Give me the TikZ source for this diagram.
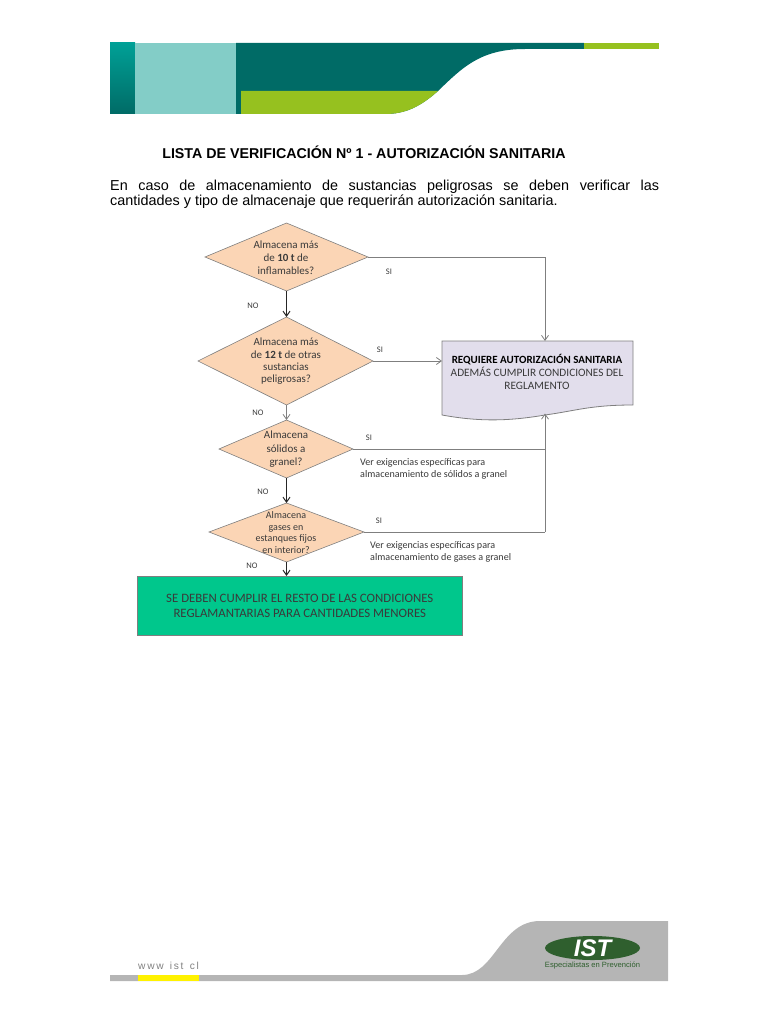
\documentclass[tikz,border=0pt]{standalone}
\usepackage{fontspec}
\setmainfont{Liberation Sans}
\newfontfamily\carl{Carlito}
\usetikzlibrary{arrows.meta,shapes.geometric}
\definecolor{tealdark}{HTML}{006B66}
\definecolor{tealtop}{HTML}{00A096}
\definecolor{teallight}{HTML}{83CDC7}
\definecolor{limeg}{HTML}{96C11F}
\definecolor{peach}{HTML}{FBD5B5}
\definecolor{lilac}{HTML}{E2DEEC}
\definecolor{greenbox}{HTML}{00C78C}
\definecolor{ink}{HTML}{3A3A3A}
\definecolor{edgegray}{HTML}{7F7F7F}
\definecolor{foot}{HTML}{B5B5B5}
\definecolor{oval}{HTML}{2F5F2E}
\tikzset{
  x=1pt,y=-1pt,
  flow/.style={font=\carl\fontsize{11}{13}\selectfont,text=ink,align=center,inner sep=0pt},
  small/.style={font=\carl\fontsize{10.1}{12}\selectfont,text=ink,align=left,anchor=west,inner sep=0pt},
  lab/.style={font=\carl\fontsize{8.5}{10}\selectfont,text=ink,inner sep=0pt},
  conn/.style={draw=edgegray,line width=0.8pt,-{Straight Barb[length=5pt,width=7pt]}},
  connk/.style={draw=black!85,line width=1pt,-{Straight Barb[length=5pt,width=7pt]}},
  plain/.style={draw=edgegray,line width=0.8pt},
  dshape/.style={draw=edgegray,line width=0.6pt,fill=peach},
}
\begin{document}
\begin{tikzpicture}
\useasboundingbox (0,0) rectangle (768,1024);
% header
\fill[tealdark] (236,43) -- (584,43) -- (584,49) -- (525,49)
  .. controls (480,49) and (462,68) .. (438,91) .. controls (420,107) and (405,114) .. (385,114) -- (236,114) -- cycle;
\fill[limeg] (584,43) rectangle (659,49);
\shade[top color=tealtop,bottom color=tealdark] (110,43) rectangle (135,114);
\fill[teallight] (135,43) rectangle (236,114);
\fill[limeg] (241,91) -- (438,91) .. controls (420,107) and (405,114) .. (385,114) -- (241,114) -- cycle;
% title and paragraph
\node[font=\bfseries\fontsize{14.25}{15}\selectfont,inner sep=0pt] (title) at (364,152.5) {LISTA DE VERIFICACIÓN Nº 1 - AUTORIZACIÓN SANITARIA};
\node[font=\fontsize{14.4}{15.2}\selectfont,text width=549pt,align=justify,inner sep=0pt,anchor=north west] (intro) at (110,179.5) {En caso de almacenamiento de sustancias peligrosas se deben verificar las\linebreak cantidades y tipo de almacenaje que requerirán autorización sanitaria.};
% decisions
\path[dshape] (205,257) -- (286.5,223) -- (368,257) -- (286.5,291) -- cycle;
\path[dshape] (198,361) -- (286.5,317) -- (373,361) -- (286.5,405) -- cycle;
\path[dshape] (219,449) -- (286.5,420) -- (353,449) -- (286.5,478) -- cycle;
\path[dshape] (209,532) -- (286.5,503) -- (364,532) -- (286.5,562) -- cycle;
\coordinate (d1t) at (286.5,223); \coordinate (d1b) at (286.5,291); \coordinate (d1r) at (368,257);
\coordinate (d2t) at (286.5,317); \coordinate (d2b) at (286.5,405); \coordinate (d2r) at (373,361);
\coordinate (d3t) at (286.5,420); \coordinate (d3b) at (286.5,478); \coordinate (d3r) at (353,449);
\coordinate (d4t) at (286.5,503); \coordinate (d4b) at (286.5,562); \coordinate (d4r) at (364,532);
\node[flow] (t1) at (286,258) {Almacena más\\de \textbf{10 t} de\\inflamables?};
\node[flow,font=\carl\fontsize{11}{12.4}\selectfont] (t2) at (286,361.5) {Almacena más\\de \textbf{12 t} de otras\\sustancias\\peligrosas?};
\node[flow,font=\carl\fontsize{11}{13.4}\selectfont] (t3) at (286,449.5) {Almacena\\sólidos a\\granel?};
\node[flow,font=\carl\fontsize{10}{11.7}\selectfont] (t4) at (286,532.5) {Almacena\\gases en\\estanques fijos\\en interior?};
% document
\path[draw=edgegray,line width=0.8pt,fill=lilac] (442,341) -- (633,341) -- (633,405)
  .. controls (590,405) and (575,411) .. (545,415) .. controls (510,421) and (480,422) .. (442,415) -- cycle;
\coordinate (doct) at (545,341); \coordinate (docl) at (442,361); \coordinate (docb) at (545,413.5);
\node[font=\carl\fontsize{11.3}{13}\selectfont,text=ink,align=center,inner sep=0pt] (doctext) at (537,372) {\fontsize{11}{13}\selectfont\textbf{\textcolor{black}{REQUIERE AUTORIZACIÓN SANITARIA}}\\ADEMÁS  CUMPLIR CONDICIONES DEL\\REGLAMENTO};
% green box
\node[draw=edgegray,line width=0.6pt,fill=greenbox,minimum width=325pt,minimum height=59pt,inner sep=0pt,anchor=north west,font=\carl\fontsize{12.8}{15.8}\selectfont,text=ink,align=center] (final) at (137,576) {SE DEBEN CUMPLIR EL RESTO DE LAS CONDICIONES\\REGLAMANTARIAS PARA CANTIDADES MENORES};
% connectors
\coordinate (c1) at (545,257);
\coordinate (c3) at (545,449);
\coordinate (c4) at (545,532);
\coordinate (fin) at (286.5,576);
\draw[connk] (d1b) -- (d2t);
\draw[conn] (d2b) -- (d3t);
\draw[connk] (d3b) -- (d4t);
\draw[connk] (d4b) -- (fin);
\draw[conn] (d1r) -- (c1) -- (doct);
\draw[conn] (d2r) -- (docl);
\draw[plain] (d3r) -- (c3);
\draw[plain] (d4r) -- (c4);
\draw[conn] (c4) -- (docb);
% labels
\node[lab] (si1) at (389,272) {SI};
\node[lab] (si2) at (380,350) {SI};
\node[lab] (si3) at (369,438) {SI};
\node[lab] (si4) at (379,521) {SI};
\node[lab] (no1) at (253,306) {NO};
\node[lab] (no2) at (258,413) {NO};
\node[lab] (no3) at (263,492) {NO};
\node[lab] (no4) at (252,566) {NO};
\node[small] (v1) at (360,468.5) {Ver exigencias específicas para\\almacenamiento de sólidos a granel};
\node[small] (v2) at (370,552) {Ver exigencias específicas para\\almacenamiento de gases a granel};
% footer
\fill[foot] (110,975) -- (462,975) .. controls (495,975) and (500,921) .. (540,921) -- (668,921) -- (668,981) -- (110,981) -- cycle;
\fill[yellow] (138,975) rectangle (199,981);
\node[font=\fontsize{10.2}{12}\selectfont,text=black!50,inner sep=0pt,anchor=west] (www) at (138,966) {w\,w\,w\, \,i\,s\,t\, \,c\,l};
\node[ellipse,fill=oval,minimum width=95pt,minimum height=23pt,inner sep=0pt,font=\bfseries\itshape\fontsize{24}{24}\selectfont,text=white] (ist) at (592.5,948) {IST};
\node[font=\fontsize{7.6}{8}\selectfont,text=oval,inner sep=0pt] (esp) at (592.5,965) {Especialistas en Prevención};
\end{tikzpicture}
\end{document}
